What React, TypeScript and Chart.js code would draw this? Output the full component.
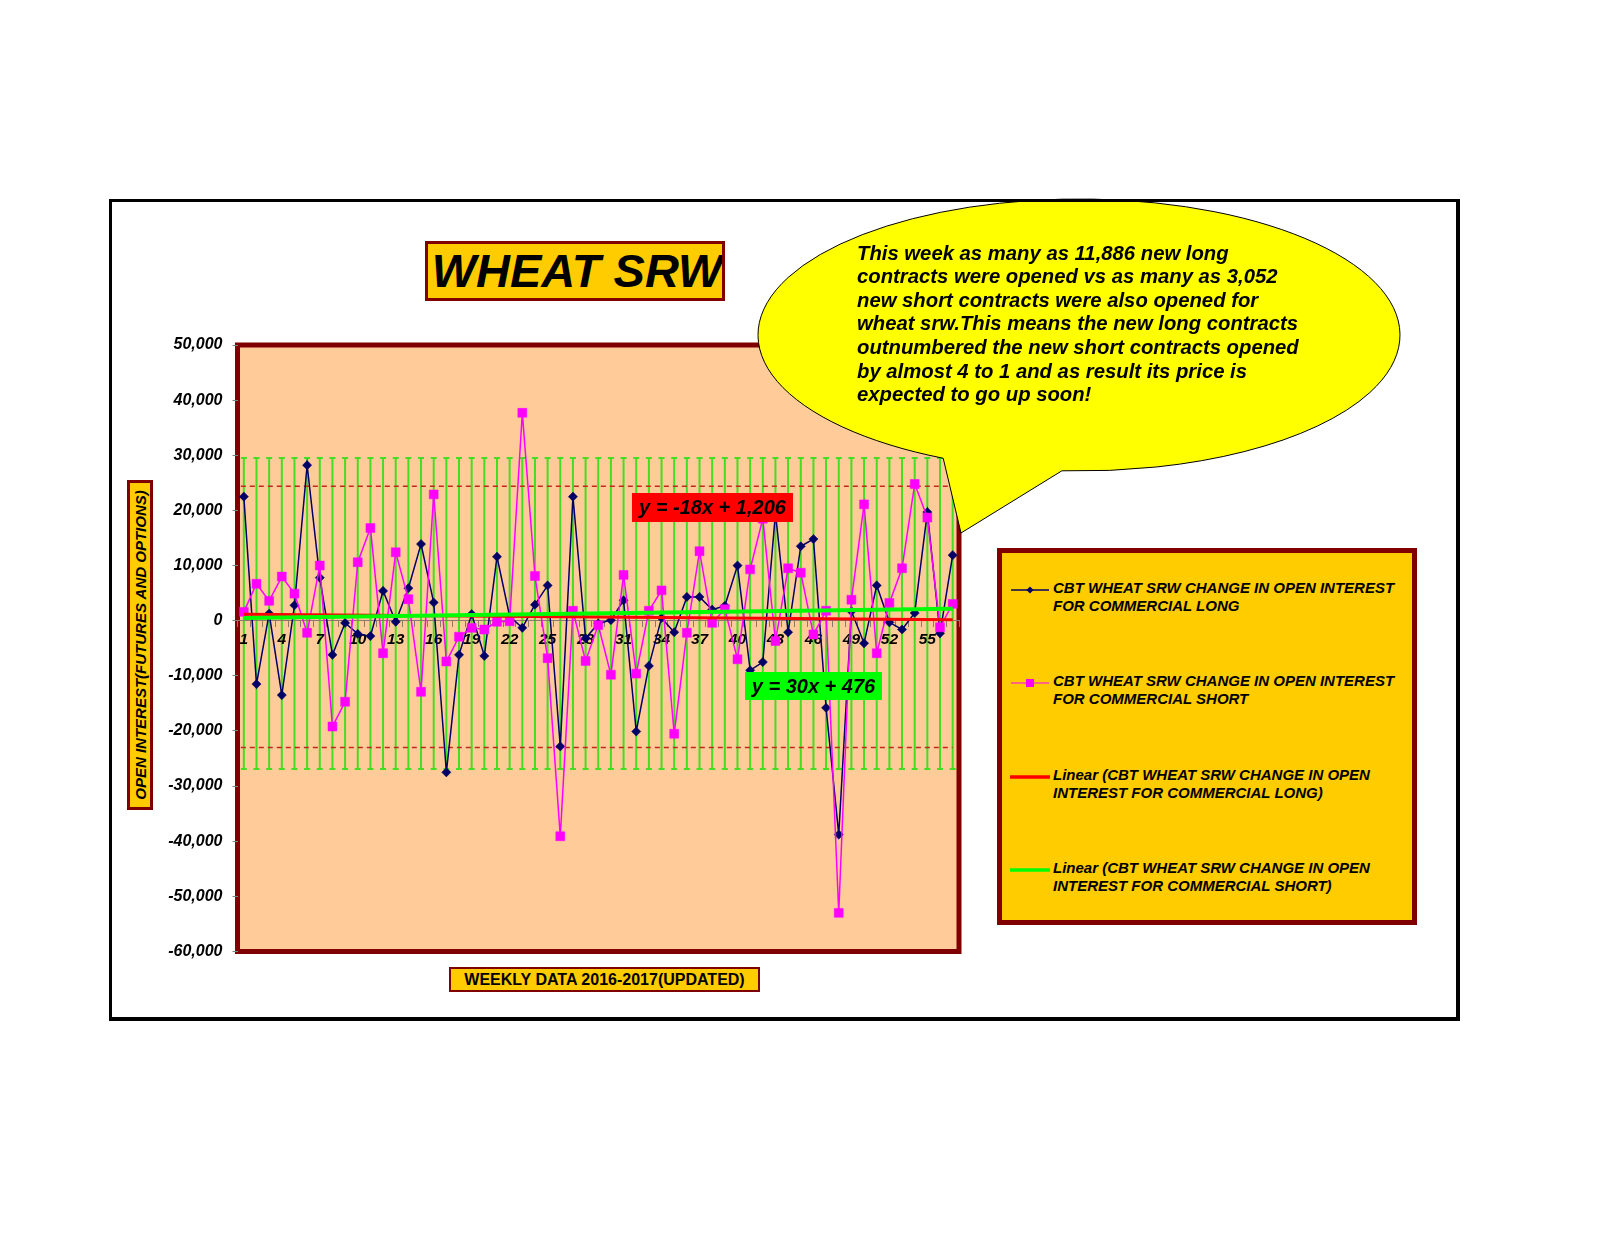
import React, { useEffect, useRef } from 'react';
import { Chart, registerables } from 'chart.js';

Chart.register(...registerables);

// ---------- data ----------
const WEEKS = [
  '1', '2', '3', '4', '5', '6', '7', '8', '9', '10',
  '11', '12', '13', '14', '15', '16', '17', '18', '19', '20',
  '21', '22', '23', '24', '25', '26', '27', '28', '29', '30',
  '31', '32', '33', '34', '35', '36', '37', '38', '39', '40',
  '41', '42', '43', '44', '45', '46', '47', '48', '49', '50',
  '51', '52', '53', '54', '55', '56', '57',
];

const LONG_CHANGE = [
  22500, -11500, 1300, -13500, 2800, 28200, 7800, -6200, -400, -2400,
  -2800, 5400, -200, 5900, 13900, 3300, -27500, -6200, 1200, -6400,
  11600, 800, -1300, 2900, 6400, -22800, 22500, -3200, -500, 100,
  3700, -20100, -8200, 500, -2100, 4300, 4300, 2000, 2700, 10000,
  -9000, -7500, 19500, -2100, 13500, 14800, -15800, -38800, 1700, -4100,
  6400, -300, -1600, 1400, 19700, -2300, 11886,
];

const SHORT_CHANGE = [
  1600, 6700, 3600, 8000, 4900, -2200, 10000, -19200, -14700, 10600,
  16800, -5900, 12400, 3900, -12900, 22900, -7400, -2900, -1300, -1600,
  -200, -100, 37700, 8100, -6800, -39100, 1800, -7300, -800, -9800,
  8300, -9600, 1800, 5500, -20500, -2200, 12600, -400, 2100, -7000,
  9300, 18500, -3700, 9500, 8700, -2500, 1800, -53000, 3800, 21100,
  -5900, 3200, 9500, 24800, 18700, -1200, 3052,
];

const Y_MIN = -60000;
const Y_MAX = 50000;
const Y_STEP = 10000;

const ERROR_BAR_HIGH = 29500;
const ERROR_BAR_LOW = -26900;
const BAND_UPPER = 24400;
const BAND_LOWER = -23000;

const LONG_TREND = { slope: -18, intercept: 1206, label: 'y = -18x + 1,206' };
const SHORT_TREND = { slope: 30, intercept: 476, label: 'y = 30x + 476' };

const CALLOUT_LINES = [
  'This week as many as 11,886 new long',
  'contracts were opened vs as many as 3,052',
  'new short contracts were also opened for',
  'wheat srw.This means the new long contracts',
  'outnumbered the new short contracts opened',
  'by almost 4 to 1 and as result its price is',
  'expected to go up soon!',
];

const LEGEND_ITEMS = [
  { kind: 'long', lines: ['CBT WHEAT SRW CHANGE IN OPEN INTEREST', 'FOR COMMERCIAL LONG'] },
  { kind: 'short', lines: ['CBT WHEAT SRW CHANGE IN OPEN INTEREST', 'FOR COMMERCIAL SHORT'] },
  { kind: 'trendLong', lines: ['Linear (CBT WHEAT SRW CHANGE IN OPEN', 'INTEREST FOR COMMERCIAL LONG)'] },
  { kind: 'trendShort', lines: ['Linear (CBT WHEAT SRW CHANGE IN OPEN', 'INTEREST FOR COMMERCIAL SHORT)'] },
];

const TITLE = 'WHEAT SRW';
const Y_TITLE = 'OPEN INTEREST(FUTURES AND OPTIONS)';
const X_TITLE = 'WEEKLY DATA 2016-2017(UPDATED)';

// ---------- styles ----------
const FONT = '"Liberation Sans", Arial, Helvetica, sans-serif';
const NAVY = '#000066';
const PINK = '#FF00FF';
const MAROON = '#800000';
const GOLD = '#FFCC00';
const PEACH = '#FFCC99';
const ERR_GREEN = '#44DD22';

const decorPlugin = {
  id: 'decor',
  beforeDraw(chart: any) {
    const { ctx, chartArea: a, scales } = chart;
    const x = scales.x;
    const y = scales.y;
    ctx.save();
    ctx.fillStyle = PEACH;
    ctx.fillRect(a.left, a.top, a.right - a.left, a.bottom - a.top);

    // error bars
    ctx.strokeStyle = ERR_GREEN;
    ctx.lineWidth = 2;
    const yHi = y.getPixelForValue(ERROR_BAR_HIGH);
    const yLo = y.getPixelForValue(ERROR_BAR_LOW);
    for (let i = 0; i < WEEKS.length; i++) {
      const px = x.getPixelForValue(i);
      ctx.beginPath();
      ctx.moveTo(px, yHi);
      ctx.lineTo(px, yLo);
      ctx.moveTo(px - 3, yHi);
      ctx.lineTo(px + 3, yHi);
      ctx.moveTo(px - 3, yLo);
      ctx.lineTo(px + 3, yLo);
      ctx.stroke();
    }

    // dashed bands
    ctx.strokeStyle = '#C0281E';
    ctx.lineWidth = 1.5;
    ctx.setLineDash([5, 4]);
    const x0 = x.getPixelForValue(0) - 3;
    const x1 = x.getPixelForValue(WEEKS.length - 1);
    [BAND_UPPER, BAND_LOWER].forEach((v) => {
      const py = y.getPixelForValue(v);
      ctx.beginPath();
      ctx.moveTo(x0, py);
      ctx.lineTo(x1, py);
      ctx.stroke();
    });
    ctx.setLineDash([]);

    // frame
    ctx.strokeStyle = MAROON;
    ctx.lineWidth = 5;
    ctx.strokeRect(a.left, a.top, a.right - a.left, a.bottom - a.top);
    ctx.restore();
  },
  afterDatasetsDraw(chart: any) {
    const { ctx, scales } = chart;
    const x = scales.x;
    const y = scales.y;
    const n = WEEKS.length;
    const drawTrend = (t: any, color: string, width: number) => {
      ctx.beginPath();
      ctx.moveTo(x.getPixelForValue(0), y.getPixelForValue(t.slope * 1 + t.intercept));
      ctx.lineTo(x.getPixelForValue(n - 1), y.getPixelForValue(t.slope * n + t.intercept));
      ctx.strokeStyle = color;
      ctx.lineWidth = width;
      ctx.stroke();
    };
    ctx.save();
    drawTrend(LONG_TREND, '#FF0000', 3);
    drawTrend(SHORT_TREND, '#00FF00', 4);

    // equation labels
    const drawLabel = (text: string, bg: string, bx: number, by: number, bw: number, bh: number) => {
      ctx.fillStyle = bg;
      ctx.fillRect(bx, by, bw, bh);
      ctx.fillStyle = '#000';
      ctx.font = `italic bold 20px ${FONT}`;
      ctx.textAlign = 'center';
      ctx.textBaseline = 'middle';
      ctx.fillText(text, bx + bw / 2, by + bh / 2 + 1);
    };
    drawLabel(LONG_TREND.label, '#FF0000', 632, 493, 161, 29);
    drawLabel(SHORT_TREND.label, '#00FF00', 745, 672, 137, 28);
    ctx.restore();
  },
  afterDraw(chart: any) {
    const { ctx } = chart;
    const cx = 1079;
    const cy = 335;
    const rx = 321;
    const ry = 136;
    const a1 = Math.atan2((457.5 - cy) / ry, (944 - cx) / rx);
    const a2 = Math.atan2((470 - cy) / ry, (1062 - cx) / rx);
    ctx.save();
    ctx.beginPath();
    ctx.ellipse(cx, cy, rx, ry, 0, a1, a2, false);
    ctx.lineTo(961, 533);
    ctx.closePath();
    ctx.fillStyle = '#FFFF00';
    ctx.fill();
    ctx.strokeStyle = '#000';
    ctx.lineWidth = 1;
    ctx.stroke();

    ctx.fillStyle = '#000';
    ctx.font = `italic bold 20.3px ${FONT}`;
    ctx.textAlign = 'left';
    ctx.textBaseline = 'middle';
    CALLOUT_LINES.forEach((line, i) => {
      ctx.fillText(line, 857, 254 + i * 23.6);
    });
    ctx.restore();
  },
};

function LegendSwatch({ kind }: { kind: string }) {
  if (kind === 'long') {
    return (
      <svg width="40" height="12">
        <line x1="1" y1="6" x2="39" y2="6" stroke={NAVY} strokeWidth="1.5" />
        <polygon points="20,2.5 23.5,6 20,9.5 16.5,6" fill={NAVY} />
      </svg>
    );
  }
  if (kind === 'short') {
    return (
      <svg width="40" height="12">
        <line x1="1" y1="6" x2="39" y2="6" stroke="#FF44AA" strokeWidth="1.5" />
        <rect x="16" y="2" width="8" height="8" fill={PINK} />
      </svg>
    );
  }
  const color = kind === 'trendLong' ? '#FF0000' : '#00FF00';
  return (
    <svg width="40" height="12">
      <line x1="0" y1="6" x2="40" y2="6" stroke={color} strokeWidth="3.5" />
    </svg>
  );
}

export default function App() {
  const canvasRef = useRef<HTMLCanvasElement>(null);

  useEffect(() => {
    document.body.style.margin = '0';
    const canvas = canvasRef.current;
    if (!canvas) return;
    const tickFont = { family: FONT, size: 16, weight: 'bold' as const, style: 'italic' as const };
    const chart = new Chart(canvas, {
      type: 'line',
      data: {
        labels: WEEKS,
        datasets: [
          {
            label: 'CBT WHEAT SRW CHANGE IN OPEN INTEREST FOR COMMERCIAL LONG',
            data: LONG_CHANGE,
            borderColor: NAVY,
            backgroundColor: NAVY,
            borderWidth: 1.5,
            pointStyle: 'rectRot',
            pointRadius: 4.6,
            pointBorderWidth: 0.5,
            tension: 0,
            order: 2,
          },
          {
            label: 'CBT WHEAT SRW CHANGE IN OPEN INTEREST FOR COMMERCIAL SHORT',
            data: SHORT_CHANGE,
            borderColor: PINK,
            backgroundColor: PINK,
            borderWidth: 1.5,
            pointStyle: 'rect',
            pointRadius: 6.3,
            pointBorderWidth: 0.5,
            tension: 0,
            order: 1,
          },
        ],
      },
      options: {
        responsive: false,
        animation: false,
        events: [],
        layout: { padding: { left: 0, top: 345, right: 641, bottom: 285.5 } },
        plugins: {
          legend: { display: false },
          title: { display: false },
          tooltip: { enabled: false },
        },
        scales: {
          x: {
            type: 'category',
            offset: true,
            position: { y: 0 } as any,
            grid: {
              display: true,
              offset: true,
              drawOnChartArea: false,
              drawTicks: true,
              tickLength: 6,
              color: '#8a7a6a',
              lineWidth: 1,
            },
            border: { display: true, color: '#8a7a6a', width: 1 },
            ticks: {
              autoSkip: false,
              maxRotation: 0,
              minRotation: 0,
              padding: 4,
              color: '#000',
              font: { ...tickFont, size: 15.5 },
              callback: (_v: any, i: number) => (i % 3 === 0 ? WEEKS[i] : ''),
            },
          },
          y: {
            type: 'linear',
            position: 'left',
            min: Y_MIN,
            max: Y_MAX,
            grid: {
              display: true,
              drawOnChartArea: false,
              drawTicks: true,
              tickLength: 5,
              color: '#808080',
            },
            border: { display: false },
            ticks: {
              stepSize: Y_STEP,
              padding: 10,
              color: '#000',
              font: tickFont,
              callback: (v: any) => Number(v).toLocaleString('en-US'),
            },
            afterFit: (scale: any) => {
              scale.width = 237.5;
            },
          },
        },
      },
      plugins: [decorPlugin],
    });
    return () => chart.destroy();
  }, []);

  const boxFont = { fontFamily: FONT, fontWeight: 'bold' as const, color: '#000' };

  return (
    <div style={{ position: 'relative', width: 1600, height: 1237, background: '#fff', overflow: 'hidden' }}>
      <canvas
        ref={canvasRef}
        width={1600}
        height={1237}
        style={{ position: 'absolute', left: 0, top: 0, width: 1600, height: 1237 }}
      />
      {/* outer chart border */}
      <div
        style={{
          position: 'absolute', left: 109, top: 199, width: 1351, height: 822,
          boxSizing: 'border-box', border: '3px solid #000', borderRightWidth: 4, borderBottomWidth: 4,
          pointerEvents: 'none',
        }}
      />
      {/* title */}
      <div
        style={{
          position: 'absolute', left: 425, top: 241, width: 300, height: 60, boxSizing: 'border-box',
          background: GOLD, border: `3px solid ${MAROON}`, display: 'flex', alignItems: 'center',
          justifyContent: 'center', overflow: 'hidden', ...boxFont, fontStyle: 'italic', fontSize: 47,
          whiteSpace: 'nowrap', lineHeight: '54px', paddingLeft: 4,
        }}
      >
        {TITLE}
      </div>
      {/* y-axis title */}
      <div
        style={{
          position: 'absolute', left: 140 - 165, top: 645 - 13, width: 330, height: 26, boxSizing: 'border-box',
          background: GOLD, border: `3px solid ${MAROON}`, transform: 'rotate(-90deg)',
          display: 'flex', alignItems: 'center', justifyContent: 'center',
          ...boxFont, fontStyle: 'italic', fontSize: 15, whiteSpace: 'nowrap',
        }}
      >
        {Y_TITLE}
      </div>
      {/* x-axis title */}
      <div
        style={{
          position: 'absolute', left: 449, top: 967, width: 311, height: 25, boxSizing: 'border-box',
          background: GOLD, border: `2px solid ${MAROON}`, display: 'flex', alignItems: 'center',
          justifyContent: 'center', ...boxFont, fontSize: 16, whiteSpace: 'nowrap',
        }}
      >
        {X_TITLE}
      </div>
      {/* legend */}
      <div
        style={{
          position: 'absolute', left: 997, top: 548, width: 420, height: 377, boxSizing: 'border-box',
          background: GOLD, border: `5px solid ${MAROON}`,
        }}
      />
      {LEGEND_ITEMS.map((item, i) => {
        const cy = 588 + i * 93.3;
        return (
          <React.Fragment key={item.kind}>
            <div style={{ position: 'absolute', left: 1010, top: cy - 6, width: 40, height: 12 }}>
              <LegendSwatch kind={item.kind} />
            </div>
            <div
              style={{
                position: 'absolute', left: 1053, top: cy - 9, ...boxFont, fontStyle: 'italic',
                fontSize: 15, lineHeight: '18px', whiteSpace: 'nowrap',
              }}
            >
              {item.lines.map((l) => (
                <div key={l}>{l}</div>
              ))}
            </div>
          </React.Fragment>
        );
      })}
    </div>
  );
}
